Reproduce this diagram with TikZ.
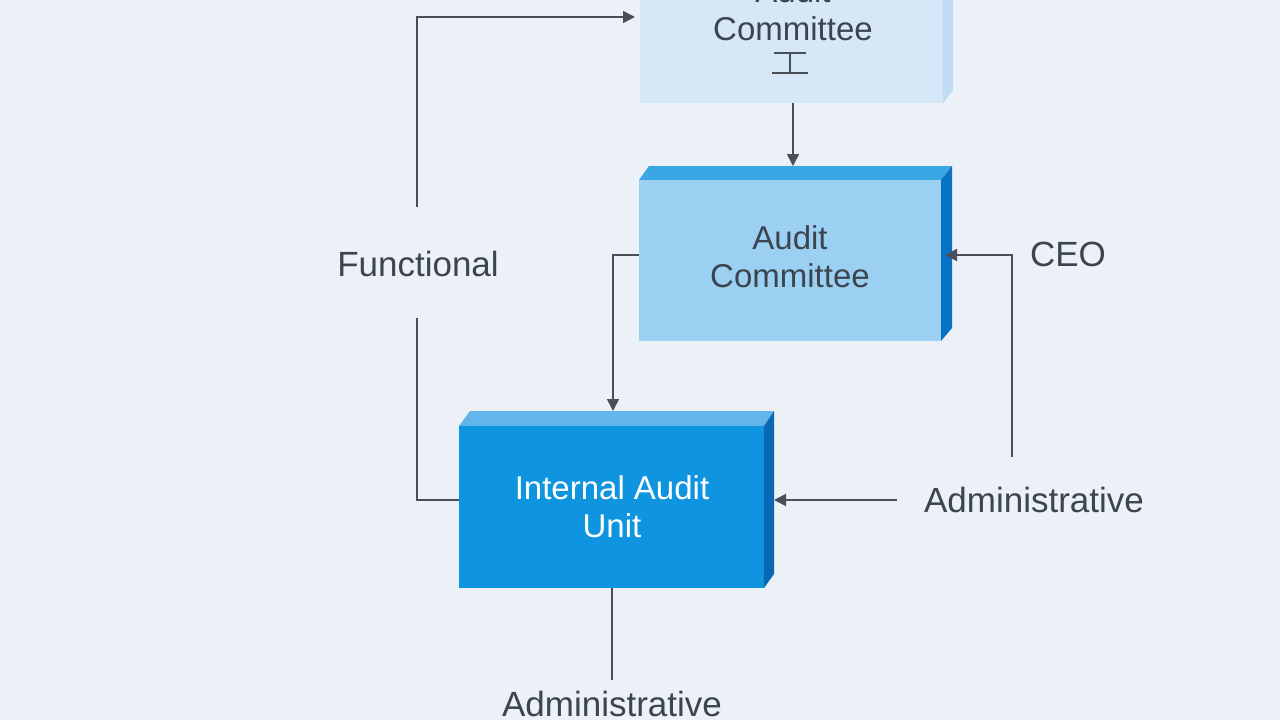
\documentclass[tikz,border=0pt]{standalone}
\usepackage{fontspec}
\setmainfont{Liberation Sans}
\usetikzlibrary{arrows.meta}
\definecolor{bg}{HTML}{ECF1F8}
\definecolor{ln}{HTML}{4A4F57}
\definecolor{tx}{HTML}{3C4450}
\begin{document}
\begin{tikzpicture}[x=1pt,y=-1pt,
  conn/.style={draw=ln,line width=1.6pt},
  arr/.style={conn,-{Triangle[length=12pt,width=12pt]}},
  lbl/.style={text=tx,font=\fontsize{35}{38}\selectfont,inner sep=0pt},
  btxt/.style={align=center,font=\fontsize{33}{38}\selectfont,inner sep=0pt}]
\useasboundingbox (0,0) rectangle (1280,720);
\fill[bg] (0,0) rectangle (1280,720);
% top box
\fill[fill={rgb,255:red,190;green,220;blue,243}] (943,-10) -- (953,-20) -- (953,90) -- (943,103) -- cycle;
\node[fill={rgb,255:red,214;green,232;blue,248},minimum width=303pt,minimum height=123pt,anchor=south west,inner sep=0pt] (top) at (640,103) {};
\node[btxt,text=tx] (toptxt) at (793,10) {Audit\\Committee};
\draw[ln,line width=1.4pt] (774,53) -- (806,53) (790,53) -- (790,73) (772,73) -- (808,73);
% middle box
\fill[fill={rgb,255:red,58;green,166;blue,227}] (639,180) -- (649,166) -- (952,166) -- (941,180) -- cycle;
\fill[fill={rgb,255:red,10;green,114;blue,196}] (941,180) -- (952,166) -- (952,328) -- (941,341) -- cycle;
\node[fill={rgb,255:red,155;green,208;blue,242},minimum width=302pt,minimum height=161pt,anchor=north west,inner sep=0pt] (mid) at (639,180) {};
\node[btxt,text=tx] (midtxt) at (790,257) {Audit\\Committee};
% bottom box
\fill[fill={rgb,255:red,98;green,182;blue,234}] (459,426) -- (470,411) -- (774,411) -- (764,426) -- cycle;
\fill[fill={rgb,255:red,8;green,104;blue,181}] (764,426) -- (774,411) -- (774,574) -- (764,588) -- cycle;
\node[fill={rgb,255:red,15;green,149;blue,224},minimum width=305pt,minimum height=162pt,anchor=north west,inner sep=0pt] (bot) at (459,426) {};
\node[btxt,text=white] (bottxt) at (612,507) {Internal Audit\\Unit};
% labels
\node[lbl] (func) at (418,264) {Functional};
\node[lbl] (ceo) at (1068,254) {CEO};
\node[lbl] (adm1) at (1034,500) {Administrative};
\node[lbl] (adm2) at (612,704) {Administrative};
% connectors
\coordinate (f1) at (417,207);
\coordinate (f2) at (417,318);
\coordinate (c1) at (1012,457);
\coordinate (a1) at (897,500);
\coordinate (b1) at (612,680);
\coordinate (mw) at (639,255);
\coordinate (bw) at (459,500);
\draw[arr] (f1) -- (417,17) -- (635,17);
\draw[conn] (f2) -- (417,500) -- (bw);
\draw[arr] (top.south -| 793,0) -- (793,166);
\draw[arr] (mw) -- (613,255) -- (613,411);
\draw[arr] (c1) -- (1012,255) -- (945,255);
\draw[arr] (a1) -- (774,500);
\draw[conn] (612,588) -- (b1);
\end{tikzpicture}
\end{document}
